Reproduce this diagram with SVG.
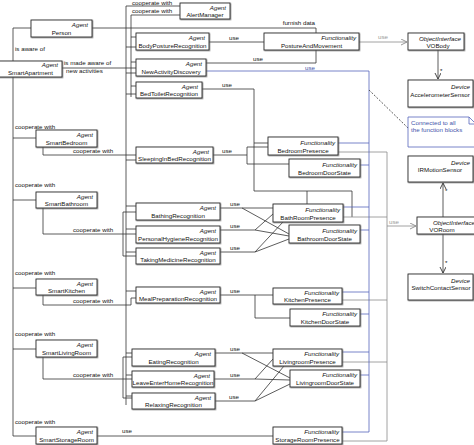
<svg xmlns="http://www.w3.org/2000/svg" width="474" height="445" viewBox="0 0 474 445">
<style>
.b{fill:#fff;stroke:#2a2a2a;stroke-width:0.9;filter:url(#sh)}
.t{font-family:"Liberation Sans",Arial,sans-serif;font-size:6.2px;fill:#111}
.i{font-style:italic}
.e{text-anchor:end}
.m{text-anchor:middle}
.l{fill:none;stroke:#333;stroke-width:0.8}
.bl{fill:none;stroke:#5566bb;stroke-width:0.8}
.g{fill:none;stroke:#8a8a8a;stroke-width:0.8}
.gt{fill:#999}
.bt{fill:#4455aa}
</style>
<defs>
<filter id="sh" x="-10%" y="-10%" width="130%" height="150%"><feDropShadow dx="0.7" dy="0.7" stdDeviation="0.2" flood-color="#666" flood-opacity="0.8"/></filter>
<marker id="ag" markerWidth="8" markerHeight="8" refX="6" refY="3" orient="auto" markerUnits="userSpaceOnUse"><path d="M0,0 L6,3 L0,6" fill="none" stroke="#8a8a8a" stroke-width="0.9"/></marker>
<marker id="ab" markerWidth="8" markerHeight="8" refX="6" refY="3" orient="auto" markerUnits="userSpaceOnUse"><path d="M0,0 L6,3 L0,6" fill="none" stroke="#333" stroke-width="0.9"/></marker>
</defs>
<rect width="474" height="445" fill="#fff"/>
<g id="connectors">
<path class="l" d="M31,28 H13 V436 H36 M13,138 H36 M13,200 H36 M13,288 H36 M13,349 H36"/>
<path class="l" d="M62,68 H136"/>
<path class="l" d="M92,28 H316 V33"/>
<path class="l" d="M126,6 H180 M126,6 V405 M131,15 H180 M131,15 V97"/>
<path class="l" d="M131,37 H136 M126,47 H136 M131,62 H136 M126,73 H136 M131,86 H136 M126,94 H136 M126,160 H136"/>
<path class="l" d="M43,147 V155 H136"/>
<path class="l" d="M43,208 V234 H136 M136,212 H123 V256 H136 M126,206 H136 M126,229 H136 M126,252 H136"/>
<path class="l" d="M43,295 V305 H131 V298 H136 M126,291 H136"/>
<path class="l" d="M43,357 V379 H132 M132,357 H123 V398 H132 M126,353 H132 M126,375 H132 M126,396 H132"/>
<path class="l" d="M97,436 H273"/>
<path class="l" d="M209,42 H264 M206,63 H316 V50"/>
<path class="l" d="M202,89 H254 V191 H352 V217 M307,191 V204 M254,143 H268"/>
<path class="l" d="M213,155 H247 M247,147 V164 M247,147 H268 M247,164 H289"/>
<path class="l" d="M220,208 H273 M242,208 L289,234 M220,230 H255 L273,214 M255,230 L289,236 M220,252 H255 L283,222 M255,252 L289,239"/>
<path class="l" d="M220,295 H273 M255,295 V318 H290"/>
<path class="l" d="M215,353 H273 M242,353 L290,378 M214,379 H255 L273,359 M255,379 L290,380 M215,401 H255 L284,366 M255,401 L290,384"/>
<path class="g" d="M387,152 V441 M338,152 H387 M343,217 H387 M342,300 H387 M342,362 H387 M342,441 H387"/>
<path class="g" d="M359,42 H407" marker-end="url(#ag)"/>
<path class="g" d="M387,226 H416" marker-end="url(#ag)"/>
<path class="bl" d="M206,71 H369 V432 M338,143 H369 M360,165 H369 M343,207 H369 M360,230 H369 M342,292 H369 M360,314 H369 M342,352 H369 M360,375 H369 M342,432 H369"/>
<path d="M369,90 L408,128" fill="none" stroke="#333" stroke-width="0.8" stroke-dasharray="2,1.5"/>
<path class="l" d="M438,50 V79" marker-end="url(#ab)"/>
<path class="l" d="M443,217 V183" marker-end="url(#ab)"/>
<path class="l" d="M443,234 V273" marker-end="url(#ab)"/>
<text class="t" x="15" y="51">is aware of</text>
<text class="t" x="64" y="65">is made aware of</text>
<text class="t" x="66" y="73">new activities</text>
<text class="t" x="132" y="4.5">cooperate with</text>
<text class="t" x="132" y="13">cooperate with</text>
<text class="t e" x="315" y="25">furnish data</text>
<text class="t" x="15" y="129">cooperate with</text>
<text class="t" x="73" y="153">cooperate with</text>
<text class="t" x="15" y="187">cooperate with</text>
<text class="t" x="73" y="232">cooperate with</text>
<text class="t" x="15" y="275">cooperate with</text>
<text class="t" x="73" y="303">cooperate with</text>
<text class="t" x="15" y="336">cooperate with</text>
<text class="t" x="73" y="377">cooperate with</text>
<text class="t" x="15" y="424">cooperate with</text>
<text class="t" x="229" y="40">use</text>
<text class="t" x="253" y="61">use</text>
<text class="t bt" x="305" y="69.5">use</text>
<text class="t" x="222" y="87">use</text>
<text class="t" x="222" y="153">use</text>
<text class="t" x="230" y="206">use</text>
<text class="t" x="230" y="228">use</text>
<text class="t" x="230" y="249.5">use</text>
<text class="t" x="230" y="293">use</text>
<text class="t" x="230" y="351">use</text>
<text class="t" x="230" y="377">use</text>
<text class="t" x="229" y="399">use</text>
<text class="t" x="122" y="433">use</text>
<text class="t gt" x="378" y="39">use</text>
<text class="t gt" x="389" y="224">use</text>
<text class="t" x="440" y="73">*</text>
<text class="t" x="445" y="193">*</text>
<text class="t" x="445" y="265">*</text>
</g>
<g id="person"><rect class="b" x="31" y="20" width="61" height="17"/><text class="t i e" x="88" y="27">Agent</text><text class="t m" x="61.5" y="34.5">Person</text></g>
<g id="smartApartment"><rect class="b" x="-1" y="61" width="63" height="16"/><text class="t i e" x="58" y="67">Agent</text><text class="t m" x="30.5" y="74.5">SmartApartment</text></g>
<g id="alertManager"><rect class="b" x="180" y="3" width="50" height="16"/><text class="t i e" x="226" y="9.5">Agent</text><text class="t m" x="205" y="17">AlertManager</text></g>
<g id="bodyPostureRecognition"><rect class="b" x="136" y="33" width="73" height="17"/><text class="t i e" x="205" y="40">Agent</text><text class="t m" x="172.5" y="47.5">BodyPostureRecognition</text></g>
<g id="newActivityDiscovery"><rect class="b" x="136" y="59" width="70" height="17"/><text class="t i e" x="202" y="66">Agent</text><text class="t m" x="171" y="73.5">NewActivityDiscovery</text></g>
<g id="bedToiletRecognition"><rect class="b" x="136" y="82" width="66" height="16"/><text class="t i e" x="198" y="88.5">Agent</text><text class="t m" x="169" y="96">BedToiletRecognition</text></g>
<g id="smartBedroom"><rect class="b" x="36" y="130" width="61" height="17"/><text class="t i e" x="93" y="137">Agent</text><text class="t m" x="66.5" y="144.5">SmartBedroom</text></g>
<g id="sleepingInBedRecognition"><rect class="b" x="136" y="147" width="77" height="16"/><text class="t i e" x="209" y="153.5">Agent</text><text class="t m" x="174.5" y="161">SleepingInBedRecognition</text></g>
<g id="smartBathroom"><rect class="b" x="36" y="192" width="61" height="16"/><text class="t i e" x="93" y="198.5">Agent</text><text class="t m" x="66.5" y="206">SmartBathroom</text></g>
<g id="bathingRecognition"><rect class="b" x="136" y="203" width="84" height="17"/><text class="t i e" x="216" y="210">Agent</text><text class="t m" x="178" y="217.5">BathingRecognition</text></g>
<g id="personalHygieneRecognition"><rect class="b" x="136" y="226" width="84" height="17"/><text class="t i e" x="216" y="233">Agent</text><text class="t m" x="178" y="240.5">PersonalHygieneRecognition</text></g>
<g id="takingMedicineRecognition"><rect class="b" x="136" y="248" width="84" height="16"/><text class="t i e" x="216" y="254.5">Agent</text><text class="t m" x="178" y="262">TakingMedicineRecognition</text></g>
<g id="smartKitchen"><rect class="b" x="36" y="279" width="61" height="16"/><text class="t i e" x="93" y="285.5">Agent</text><text class="t m" x="66.5" y="293">SmartKitchen</text></g>
<g id="mealPreparationRecognition"><rect class="b" x="136" y="287" width="84" height="16"/><text class="t i e" x="216" y="293.5">Agent</text><text class="t m" x="178" y="301">MealPreparationRecognition</text></g>
<g id="smartLivingRoom"><rect class="b" x="36" y="340" width="61" height="17"/><text class="t i e" x="93" y="347">Agent</text><text class="t m" x="66.5" y="354.5">SmartLivingRoom</text></g>
<g id="eatingRecognition"><rect class="b" x="132" y="349" width="83" height="17"/><text class="t i e" x="211" y="356">Agent</text><text class="t m" x="173.5" y="363.5">EatingRecognition</text></g>
<g id="leaveEnterHomeRecognition"><rect class="b" x="132" y="371" width="82" height="16"/><text class="t i e" x="210" y="377.5">Agent</text><text class="t m" x="173" y="385">LeaveEnterHomeRecognition</text></g>
<g id="relaxingRecognition"><rect class="b" x="132" y="393" width="83" height="16"/><text class="t i e" x="211" y="399.5">Agent</text><text class="t m" x="173.5" y="407">RelaxingRecognition</text></g>
<g id="smartStorageRoom"><rect class="b" x="36" y="427" width="61" height="17"/><text class="t i e" x="93" y="434">Agent</text><text class="t m" x="66.5" y="441.5">SmartStorageRoom</text></g>
<g id="postureAndMovement"><rect class="b" x="264" y="33" width="95" height="17"/><text class="t i e" x="356" y="40">Functionality</text><text class="t m" x="311.5" y="47.5">PostureAndMovement</text></g>
<g id="bedroomPresence"><rect class="b" x="268" y="137" width="70" height="18"/><text class="t i e" x="335" y="144.5">Functionality</text><text class="t m" x="303" y="152.5">BedroomPresence</text></g>
<g id="bedroomDoorState"><rect class="b" x="289" y="159" width="71" height="18"/><text class="t i e" x="357" y="166.5">Functionality</text><text class="t m" x="324.5" y="174.5">BedroomDoorState</text></g>
<g id="bathRoomPresence"><rect class="b" x="273" y="204" width="70" height="18"/><text class="t i e" x="340" y="211.5">Functionality</text><text class="t m" x="308" y="219.5">BathRoomPresence</text></g>
<g id="bathroomDoorState"><rect class="b" x="289" y="225" width="71" height="18"/><text class="t i e" x="357" y="232.5">Functionality</text><text class="t m" x="324.5" y="240.5">BathroomDoorState</text></g>
<g id="kitchenPresence"><rect class="b" x="273" y="288" width="69" height="16"/><text class="t i e" x="339" y="294.5">Functionality</text><text class="t m" x="307.5" y="302">KitchenPresence</text></g>
<g id="kitchenDoorState"><rect class="b" x="290" y="309" width="70" height="17"/><text class="t i e" x="357" y="316">Functionality</text><text class="t m" x="325" y="323.5">KitchenDoorState</text></g>
<g id="livingroomPresence"><rect class="b" x="273" y="349" width="69" height="17"/><text class="t i e" x="339" y="356">Functionality</text><text class="t m" x="307.5" y="363.5">LivingroomPresence</text></g>
<g id="livingroomDoorState"><rect class="b" x="290" y="370" width="70" height="17"/><text class="t i e" x="357" y="377">Functionality</text><text class="t m" x="325" y="384.5">LivingroomDoorState</text></g>
<g id="storageRoomPresence"><rect class="b" x="273" y="427" width="69" height="17"/><text class="t i e" x="339" y="434">Functionality</text><text class="t m" x="307.5" y="441.5">StorageRoomPresence</text></g>
<g id="voBody"><rect class="b" x="408" y="33" width="56" height="17"/><text class="t i e" x="461" y="40.5">ObjectInterface</text><text class="t m" x="438" y="48">VOBody</text></g>
<g id="accelerometerSensor"><rect class="b" x="408" y="80" width="65" height="27"/><text class="t i e" x="470" y="89">Device</text><text class="t m" x="440" y="96.5">AccelerometerSensor</text></g>
<g id="note"><path d="M408,117 H469 L476,124 V147 H408 Z" fill="#fff" stroke="#5566bb" stroke-width="0.8"/><path d="M469,117 V124 H476" fill="none" stroke="#5566bb" stroke-width="0.8"/><text class="t bt" x="411" y="124.5">Connected to all</text><text class="t bt" x="411" y="131.5">the function blocks</text></g>
<g id="irMotionSensor"><rect class="b" x="408" y="156" width="65" height="26"/><text class="t i e" x="470" y="164.5">Device</text><text class="t m" x="440" y="171.5">IRMotionSensor</text></g>
<g id="voRoom"><rect class="b" x="417" y="217" width="60" height="17"/><text class="t i e" x="475" y="224.5">ObjectInterface</text><text class="t m" x="442" y="231.5">VORoom</text></g>
<g id="switchContactSensor"><rect class="b" x="408" y="274" width="65" height="26"/><text class="t i e" x="470" y="282.5">Device</text><text class="t m" x="441" y="289.5">SwitchContactSensor</text></g>
</svg>
